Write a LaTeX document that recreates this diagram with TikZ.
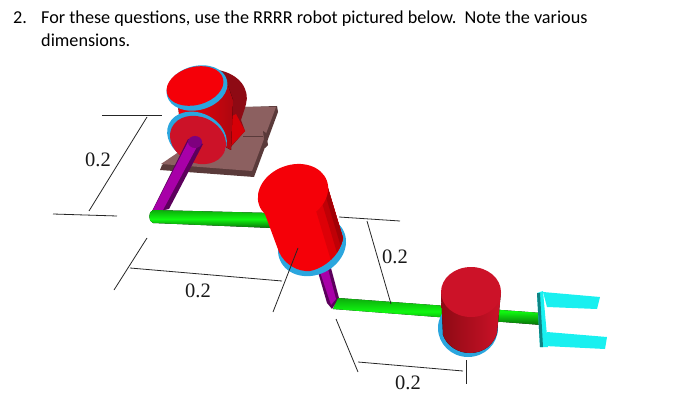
\documentclass[tikz,border=0pt]{standalone}
\usepackage{fontspec}
\setmainfont{Carlito}
\newfontfamily\dimfont{Liberation Serif}
\definecolor{jointred}{HTML}{F50008}
\definecolor{darkjoint}{HTML}{8E0A14}
\definecolor{crimson}{HTML}{CC1228}
\definecolor{ringblue}{HTML}{2BA6DE}
\definecolor{plate}{HTML}{8C6060}
\definecolor{platedark}{HTML}{5A3A3A}
\definecolor{linkgreen}{HTML}{10F810}
\definecolor{linkdark}{HTML}{0A8A0A}
\definecolor{linkpurple}{HTML}{A800A8}
\definecolor{gripper}{HTML}{19F0F0}
\tikzset{
  question/.style={anchor=base west,inner sep=0pt,font=\fontsize{18.2}{21}\selectfont},
  dimlabel/.style={inner sep=0pt,font=\dimfont\fontsize{20.5}{24}\selectfont,text=black!90},
  dimline/.style={draw=black!85,line width=0.8pt},
  greenlink/.style={top color=linkdark!70!linkgreen,bottom color=linkdark!80!black,middle color=linkgreen},
}
\begin{document}
\begin{tikzpicture}[x=1pt,y=-1pt]
  \useasboundingbox (0,0) rectangle (700,403);
  % Question text
  \node[question] (num) at (13,24) {2.};
  \node[question] (first) at (41,24) {For these questions, use the RRRR robot pictured below.\ \ Note the various};
  \node[question] (second) at (41,47) {dimensions.};
  % Base plate
  \fill[platedark] (245,107) -- (277,106) -- (278,112) -- (254,177) -- (160,170) -- (162,165) -- cycle;
  \fill[plate] (245,107) -- (276,107) -- (252,171) -- (161,164) -- cycle;
  \draw[platedark,line width=1pt] (243,137) -- (263,137);
  \fill[platedark] (263,131) -- (266,133) -- (268,145) -- (265,148) -- cycle;
  % Shoulder joint
  \fill[darkjoint] (218,70) .. controls (240,74) and (250,90) .. (246,104) .. controls (244,112) and (242,116) .. (241,120) -- (245,131) -- (230,148) -- (195,120) -- cycle;
  \fill[jointred!88!black] (236,114) -- (245,131) -- (230,147) -- (215,125) -- cycle;
  \fill[left color=jointred,right color=darkjoint!70!jointred] (178,106) -- (226,80) -- (233,100) -- (231,150) -- (180,122) -- cycle;
  \fill[ringblue,rotate around={15:(197,88)}] (197,88) ellipse [x radius=31pt,y radius=22pt];
  \fill[jointred,rotate around={15:(195,86)}] (195,86) ellipse [x radius=29pt,y radius=19pt];
  \fill[ringblue,rotate around={-25:(197,137)}] (197,137) ellipse [x radius=31pt,y radius=24pt];
  \fill[crimson,rotate around={-25:(198,140)}] (198,140) ellipse [x radius=29pt,y radius=23pt];
  % First link pair
  \fill[linkpurple!55!black] (188,139) -- (203,144) -- (169,209) -- (151,213) -- cycle;
  \fill[linkpurple] (189,140) -- (199,143) -- (163,210) -- (152,212) -- cycle;
  \fill[linkpurple!75!black] (195,142) ellipse [x radius=7pt,y radius=6pt];
  \fill[greenlink] (153,210) -- (272,213) -- (272,228) -- (153,223) .. controls (148,222) and (148,211) .. (153,210) -- cycle;
  % Second link pair
  \fill[linkpurple!55!black] (318,272) -- (331,268) -- (339,298) -- (332,309) -- (327,303) -- cycle;
  \fill[linkpurple] (320,272) -- (328,269) -- (336,299) -- (331,305) -- cycle;
  \fill[greenlink] (338,298) -- (542,313) -- (542,325) -- (333,309) -- cycle;
  % Elbow joint
  \fill[ringblue,rotate around={25:(312,246)}] (312,246) ellipse [x radius=35pt,y radius=29pt];
  \begin{scope}
    \clip (259,198) -- (279,252) .. controls (285,265) and (298,272) .. (310,271) .. controls (325,268) and (340,255) .. (343,238) -- (325,178) -- cycle;
    \fill[jointred] (250,170) rectangle (350,280);
    \draw[jointred!90!black,line width=36pt] (322,168) -- (349,258);
    \draw[jointred!78!black,line width=20pt] (322,168) -- (349,258);
    \draw[jointred!66!black,line width=9pt] (322,168) -- (349,258);
  \end{scope}
  \fill[jointred,rotate around={20:(293,193)}] (293,193) ellipse [x radius=36pt,y radius=28pt];
  % Wrist joint
  \fill[ringblue] (468,328) ellipse [x radius=30pt,y radius=29pt];
  \fill[left color=darkjoint,right color=crimson] (441,292) -- (443,335) .. controls (447,346) and (458,353) .. (470,353) .. controls (484,353) and (494,344) .. (497,333) -- (501,292) -- cycle;
  \fill[crimson] (471,292) ellipse [x radius=30pt,y radius=25pt];
  % Gripper
  \fill[gripper] (543,292) -- (600,297) -- (597,309) -- (547,307) -- cycle;
  \fill[gripper] (547,332) -- (607,337) -- (605,349) -- (545,346) -- cycle;
  \fill[gripper] (537,293) -- (543,291) -- (548,347) -- (540,347) -- cycle;
  \fill[gripper!55!black] (537,293) -- (540,293) -- (543,347) -- (540,347) -- cycle;
  % Dimension lines
  \draw[dimline] (102,115) -- (162,115);
  \draw[dimline] (147,117) -- (89,211);
  \draw[dimline] (53,214) -- (117,216);
  \node[dimlabel] (shoulder) at (98,160) {0.2};
  \draw[dimline] (147,238) -- (114,290);
  \draw[dimline] (130,268) -- (282,281);
  \draw[dimline] (298,248) -- (273,312);
  \node[dimlabel] (upperarm) at (198,291) {0.2};
  \draw[dimline] (339,217) -- (400,221);
  \draw[dimline] (367,221) -- (391,304);
  \node[dimlabel] (forearm) at (395,257) {0.2};
  \draw[dimline] (336,319) -- (358,372);
  \draw[dimline] (358,362) -- (463,371);
  \draw[dimline] (466,360) -- (466,384);
  \node[dimlabel] (wrist) at (408,383) {0.2};
\end{tikzpicture}
\end{document}
